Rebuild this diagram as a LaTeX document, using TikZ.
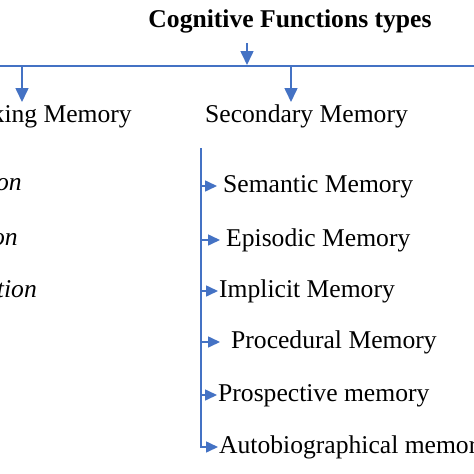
\documentclass[tikz,border=0pt]{standalone}
\usepackage{fontspec}
\setmainfont{Liberation Serif}
\usetikzlibrary{arrows.meta}
\definecolor{lineblue}{HTML}{4472C4}
\tikzset{
  conn/.style={draw=lineblue, line width=1.6pt},
  arr/.style={conn, -{Triangle[length=14pt,width=13pt]}},
  harr/.style={conn, -{Triangle[length=12pt,width=11pt]}},
  lbl/.style={inner sep=0pt, text height=17pt, text depth=5pt, font=\fontsize{25.6}{30}\selectfont},
  ttl/.style={lbl, font=\fontsize{25.6}{30}\selectfont\bfseries},
  itl/.style={lbl, font=\fontsize{25.6}{30}\selectfont\itshape}
}
\begin{document}
\begin{tikzpicture}[x=1pt,y=-1pt]
\useasboundingbox (0,0) rectangle (474,474);
\fill[white] (0,0) rectangle (474,474);
\clip (0,0) rectangle (474,474);
% title
\node[ttl, anchor=base] (title) at (290,27) {Cognitive Functions types};
\coordinate (t0) at (247,43);
\coordinate (bl) at (0,66);
\coordinate (br) at (474,66);
\coordinate (bm) at (247,65);
\draw[conn] (bl) -- (br);
\draw[arr] (t0) -- (bm);
% level 1
\node[lbl, anchor=base east] (wm) at (132,122) {Working Memory};
\node[lbl, anchor=base west] (sm) at (205,122) {Secondary Memory};
\coordinate (b1) at (22,66);
\coordinate (b2) at (291,66);
\draw[arr] (b1) -- (b1 |- 0,102);
\draw[arr] (b2) -- (b2 |- 0,102);
% left italic fragments
\node[itl, anchor=base east] (l1) at (22,190) {on};
\node[itl, anchor=base east] (l2) at (18,245) {on};
\node[itl, anchor=base east] (l3) at (37,297) {tion};
% secondary memory children
\node[lbl, anchor=base west] (sem) at (223,192) {Semantic Memory};
\node[lbl, anchor=base west] (epi) at (226,246) {Episodic Memory};
\node[lbl, anchor=base west] (imp) at (219,297) {Implicit Memory};
\node[lbl, anchor=base west] (pro) at (231,348) {Procedural Memory};
\node[lbl, anchor=base west] (psp) at (218,401) {Prospective memory};
\node[lbl, anchor=base west] (aut) at (219,453) {Autobiographical memory};
\coordinate (sp) at (201,148);
\draw[harr] (sp) |- ([xshift=-1pt]aut.west);
\draw[harr] (sp |- sem.west) -- ([xshift=-6pt]sem.west);
\draw[harr] (sp |- epi.west) -- ([xshift=-6pt]epi.west);
\draw[harr] (sp |- imp.west) -- ([xshift=-1pt]imp.west);
\draw[harr] (sp |- pro.west) -- ([xshift=-11pt]pro.west);
\draw[harr] (sp |- psp.west) -- ([xshift=-1pt]psp.west);
\end{tikzpicture}
\end{document}
